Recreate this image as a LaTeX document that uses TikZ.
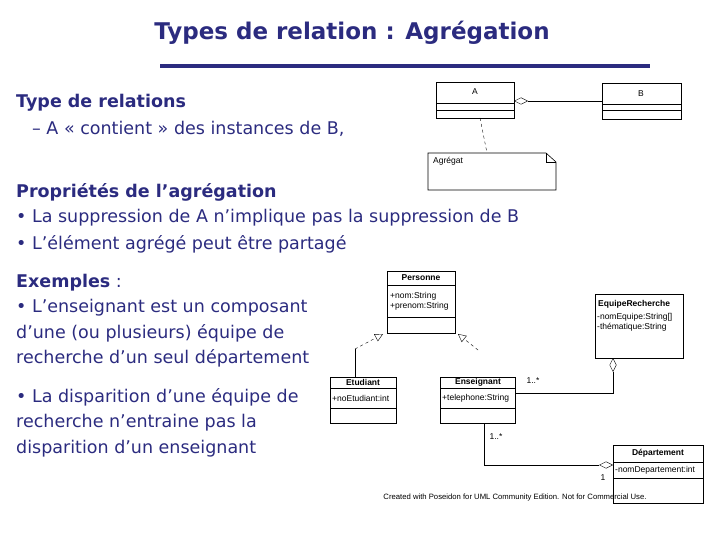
\documentclass[tikz,border=0pt]{standalone}
\usepackage{fontspec}
\setmainfont{DejaVu Sans}
\newfontfamily\uml{Liberation Sans}
\usetikzlibrary{arrows.meta}
\definecolor{navy}{HTML}{2B2B7F}
\begin{document}
\begin{tikzpicture}[x=1pt,y=-1pt,
  txt/.style={anchor=west,text=navy,font=\fontsize{17.5}{20}\selectfont,inner sep=0},
  cls/.style={draw,line width=0.6pt},
  ulab/.style={font=\uml\fontsize{8.5}{10}\selectfont,inner sep=0},
  bl/.style={font=\uml\bfseries\fontsize{8.5}{10}\selectfont},
  agg/.style={-{Diamond[open,length=14pt,width=7pt]}},
  gen/.style={dashed,-{Triangle[open,length=8pt,width=8pt]}}]
\useasboundingbox (0,0) rectangle (720,540);
\node[text=navy,font=\bfseries\fontsize{23}{26}\selectfont] (title) at (352,33) {Types de relation : Agrégation};
\fill[navy] (160,64) rectangle (650,68);
\node[txt,font=\bfseries\fontsize{17.5}{20}\selectfont] (t1) at (16,103) {Type de relations};
\node[txt] (t2) at (32,129) {– A « contient » des instances de B,};
\node[txt,font=\bfseries\fontsize{17.5}{20}\selectfont] (t3) at (16,192) {Propriétés de l’agrégation};
\node[txt] (t4) at (16,218) {• La suppression de A n’implique pas la suppression de B};
\node[txt] (t5) at (16,244) {• L'élément agrégé peut être partagé};
\node[txt] (t6) at (16,283) {\textbf{Exemples} :};
\node[txt] (t7) at (16,308) {• L’enseignant est un composant};
\node[txt] (t8) at (16,333) {d’une (ou plusieurs) équipe de};
\node[txt] (t9) at (16,358) {recherche d’un seul département};
\node[txt] (t10) at (16,397) {• La disparition d’une équipe de};
\node[txt] (t11) at (16,423) {recherche n’entraine pas la};
\node[txt] (t12) at (16,449) {disparition d’un enseignant};
% A, B
\draw[cls] (436,82) rectangle (514,118); \draw (436,103)--(514,103) (436,110)--(514,110);
\node[ulab] (A) at (475,92) {A};
\draw[cls] (602,83) rectangle (681,119); \draw (602,104)--(681,104) (602,110)--(681,110);
\node[ulab] (B) at (641,94) {B};
\coordinate (Ar) at (514,101); \coordinate (Bl) at (602,101);
\draw[agg] (Bl) -- (Ar);
\draw[cls] (428,153) -- (546,153) -- (556,162) -- (556,190) -- (428,190) -- cycle;
\draw (546,153) -- (546,162) -- (556,162);
\node[ulab,anchor=west] (note) at (433,161) {Agrégat};
\coordinate (Ab) at (480,118); \coordinate (Nt) at (487,153);
\draw[dashed] (Ab) -- (Nt);
% Personne
\draw[cls] (387,271) rectangle (455,333); \draw (387,285)--(455,285) (387,317)--(455,317);
\node[ulab,bl] (P) at (421,278) {Personne};
\node[ulab,anchor=west,align=left] (Pa) at (390,301) {+nom:String\\+prenom:String};
% Etudiant
\draw[cls] (330,377) rectangle (396,423); \draw (330,388)--(396,388) (330,408)--(396,408);
\node[ulab,bl] (E) at (363,382) {Etudiant};
\node[ulab,anchor=west] (Ea) at (332,398) {+noEtudiant:int};
% Enseignant
\draw[cls] (440,377) rectangle (515,423); \draw (440,388)--(515,388) (440,408)--(515,408);
\node[ulab,bl] (En) at (478,382) {Enseignant};
\node[ulab,anchor=west] (Ena) at (442,398) {+telephone:String};
% Equipe
\draw[cls] (595,294) rectangle (683,358);
\node[ulab,bl,anchor=west] (Eq) at (598,304) {EquipeRecherche};
\node[ulab,anchor=west,align=left] (Eqa) at (597,322) {-nomEquipe:String[]\\-thématique:String};
% Departement
\draw[cls] (613,445) rectangle (703,503); \draw (613,462)--(703,462) (613,478)--(703,478);
\node[ulab,bl] (D) at (658,453) {Département};
\node[ulab,anchor=west] (Da) at (615,470) {-nomDepartement:int};
% generalisations
\coordinate (e1) at (355,377); \coordinate (e2) at (355,349); \coordinate (p1) at (383,334);
\draw (e1) -- (e2); \draw[gen] (e2) -- (p1);
\coordinate (n1) at (478,350); \coordinate (p2) at (458,334);
\draw[gen] (n1) -- (p2);
% associations
\coordinate (s1) at (515,393); \coordinate (s2) at (613,393); \coordinate (q1) at (613,358);
\draw[agg] (s1) -- (s2) -- (q1);
\node[ulab] (m1) at (533,381) {1..*};
\coordinate (d1) at (484,423); \coordinate (d2) at (484,465); \coordinate (q2) at (613,465);
\draw[agg] (d1) -- (d2) -- (q2);
\node[ulab] (m2) at (496,437) {1..*};
\node[ulab] (m3) at (603,478) {1};
\node[ulab,font=\uml\fontsize{7.7}{9}\selectfont] (foot) at (515,498) {Created with Poseidon for UML Community Edition. Not for Commercial Use.};
\end{tikzpicture}
\end{document}
